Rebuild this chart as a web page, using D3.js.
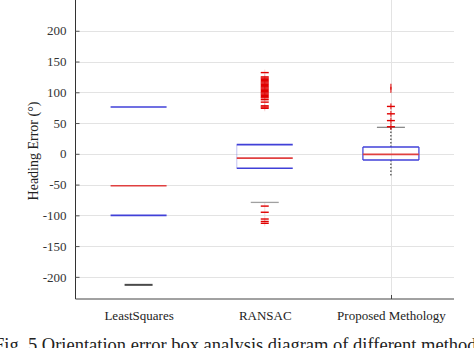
<!DOCTYPE html>
<html><head><meta charset="utf-8">
<script src="https://cdn.jsdelivr.net/npm/d3@7"></script>
<style>
html,body{margin:0;padding:0;background:#fff;}
svg{display:block;font-family:"Liberation Serif","Times New Roman",serif;}
</style></head>
<body>
<svg id="c" width="474" height="348"></svg>
<script>
// ---- data ----
const categories = ["LeastSquares", "RANSAC", "Proposed Methology"];
const q1Values     = [-100, -23.5, -10];
const medianValues = [-52, -7, -1];
const q3Values     = [76, 15, 11];
const lowerWhisker = [-213, -79, -37];
const upperWhisker = [76, 15, 43];
const outliers = [
  [],
  [132,125,123,121,119,117,115,113,111,109,107,105,103,101,99,97,95,93,91,88,84,78,76,74,-85,-95,-106,-110,-113],
  [77,65,54,44]
];
const verticalOutliers = [[], [], [109,104]];
const yTicks = [-200,-150,-100,-50,0,50,100,150,200];
const yTitle = "Heading Error (°)";
const caption = "Fig. 5 Orientation error box analysis diagram of different methods";

// ---- styles ----
const boxSideOpacity = [0, 0.25, 1];
const whiskerLineOpacity = [0, 0, 1];
const outlierStemOpacity = [0, 0.15, 1];
const capColors = ["#4a4a4a", "#a0a0a0", "#8a8a8a"];
const lowerCapShown = [true, true, false];
const upperCapShown = [false, false, true];

const svg = d3.select("#c");
const L = 75.5, R = 454, T = 0, B = 299;
const y = d3.scaleLinear().domain([-236, 250]).range([B, T]);
const x = d3.scalePoint().domain(categories).range([L, R]).padding(0.5);
const boxW = 56, capW = 28;

// gridlines
svg.append("g").selectAll("line").data(yTicks).join("line")
  .attr("x1", L).attr("x2", R)
  .attr("y1", d => Math.round(y(d)) + 0.5).attr("y2", d => Math.round(y(d)) + 0.5)
  .attr("stroke", "#e3e3e3").attr("stroke-width", 1);
svg.append("line")
  .attr("x1", Math.round(x(categories[2])) + 0.5).attr("x2", Math.round(x(categories[2])) + 0.5)
  .attr("y1", T).attr("y2", B).attr("stroke", "#e3e3e3");

// y axis
const yAxis = d3.axisLeft(y).tickValues(yTicks).tickSize(-4).tickPadding(9).tickFormat(d3.format("d"));
const gy = svg.append("g").attr("transform", `translate(${L},0)`).call(yAxis);
gy.select(".domain").attr("stroke", "#333").attr("d", `M0,${T}V${B}`);
gy.selectAll(".tick line").attr("stroke", "#555");
gy.selectAll(".tick text").attr("fill", "#333").style("font-size", "13px")
  .style("font-family", "'Liberation Serif',serif").text(d => d < 0 ? "-" + Math.abs(d) : d);

// x axis
const xAxis = d3.axisBottom(x).tickSize(0).tickPadding(12);
const gx = svg.append("g").attr("transform", `translate(0,${B})`).call(xAxis);
gx.select(".domain").attr("stroke", "#444").attr("d", `M${L},0H${R}`);
gx.selectAll(".tick text").attr("fill", "#222").style("font-size", "13px")
  .style("font-family", "'Liberation Serif',serif");
gx.append("line").attr("x1", Math.round(x(categories[2])) + 0.5).attr("x2", Math.round(x(categories[2])) + 0.5)
  .attr("y1", 0).attr("y2", -4).attr("stroke", "#444");

// boxes
const g = svg.append("g");
categories.forEach((c, i) => {
  const cx = x(c);
  const x0 = cx - boxW / 2, x1 = cx + boxW / 2;
  const yq1 = y(q1Values[i]), yq3 = y(q3Values[i]), ym = y(medianValues[i]);
  g.append("line").attr("x1", cx).attr("x2", cx).attr("y1", yq3).attr("y2", y(upperWhisker[i]))
    .attr("stroke", "#111").attr("stroke-dasharray", "1.5,2").attr("opacity", whiskerLineOpacity[i]);
  g.append("line").attr("x1", cx).attr("x2", cx).attr("y1", yq1).attr("y2", y(lowerWhisker[i]))
    .attr("stroke", "#111").attr("stroke-dasharray", "1.5,2").attr("opacity", whiskerLineOpacity[i]);
  if (lowerCapShown[i])
    g.append("line").attr("x1", cx - capW / 2).attr("x2", cx + capW / 2)
      .attr("y1", y(lowerWhisker[i])).attr("y2", y(lowerWhisker[i]))
      .attr("stroke", capColors[i]).attr("stroke-width", i === 0 ? 2 : 1.3);
  if (upperCapShown[i])
    g.append("line").attr("x1", cx - capW / 2).attr("x2", cx + capW / 2)
      .attr("y1", y(upperWhisker[i])).attr("y2", y(upperWhisker[i]))
      .attr("stroke", capColors[i]).attr("stroke-width", 1.3);
  [x0].forEach(xx => g.append("line").attr("x1", xx).attr("x2", xx).attr("y1", yq3).attr("y2", yq1)
    .attr("stroke", "#3a3ad8").attr("stroke-width", 1.2).attr("opacity", boxSideOpacity[i]));
  [x1].forEach(xx => g.append("line").attr("x1", xx).attr("x2", xx).attr("y1", yq3).attr("y2", yq1)
    .attr("stroke", "#3a3ad8").attr("stroke-width", 1.2).attr("opacity", i === 2 ? 1 : 0));
  [yq3, yq1].forEach(yy => g.append("line").attr("x1", x0).attr("x2", x1).attr("y1", yy).attr("y2", yy)
    .attr("stroke", "#4040d8").attr("stroke-width", 1.6));
  g.append("line").attr("x1", x0).attr("x2", x1).attr("y1", ym).attr("y2", ym)
    .attr("stroke", "#e04040").attr("stroke-width", 1.6);
  outliers[i].forEach(v => {
    const yy = y(v);
    g.append("line").attr("x1", cx - 4).attr("x2", cx + 4).attr("y1", yy).attr("y2", yy)
      .attr("stroke", "#e00000").attr("stroke-width", 1.4);
    g.append("line").attr("x1", cx).attr("x2", cx).attr("y1", yy - 3).attr("y2", yy + 3)
      .attr("stroke", "#e00000").attr("stroke-width", 1).attr("opacity", outlierStemOpacity[i]);
  });
  verticalOutliers[i].forEach(v => {
    const yy = y(v);
    g.append("line").attr("x1", cx).attr("x2", cx).attr("y1", yy - 3).attr("y2", yy + 3)
      .attr("stroke", "#e00000").attr("stroke-width", 1);
  });
});

// y title
svg.append("text").attr("transform", `translate(38,151) rotate(-90)`)
  .attr("text-anchor", "middle").attr("fill", "#222").style("font-size", "14px").text(yTitle);

// caption
svg.append("text").attr("x", -6).attr("y", 351).attr("fill", "#222")
  .style("font-size", "18.5px").text(caption);
</script>
</body></html>
